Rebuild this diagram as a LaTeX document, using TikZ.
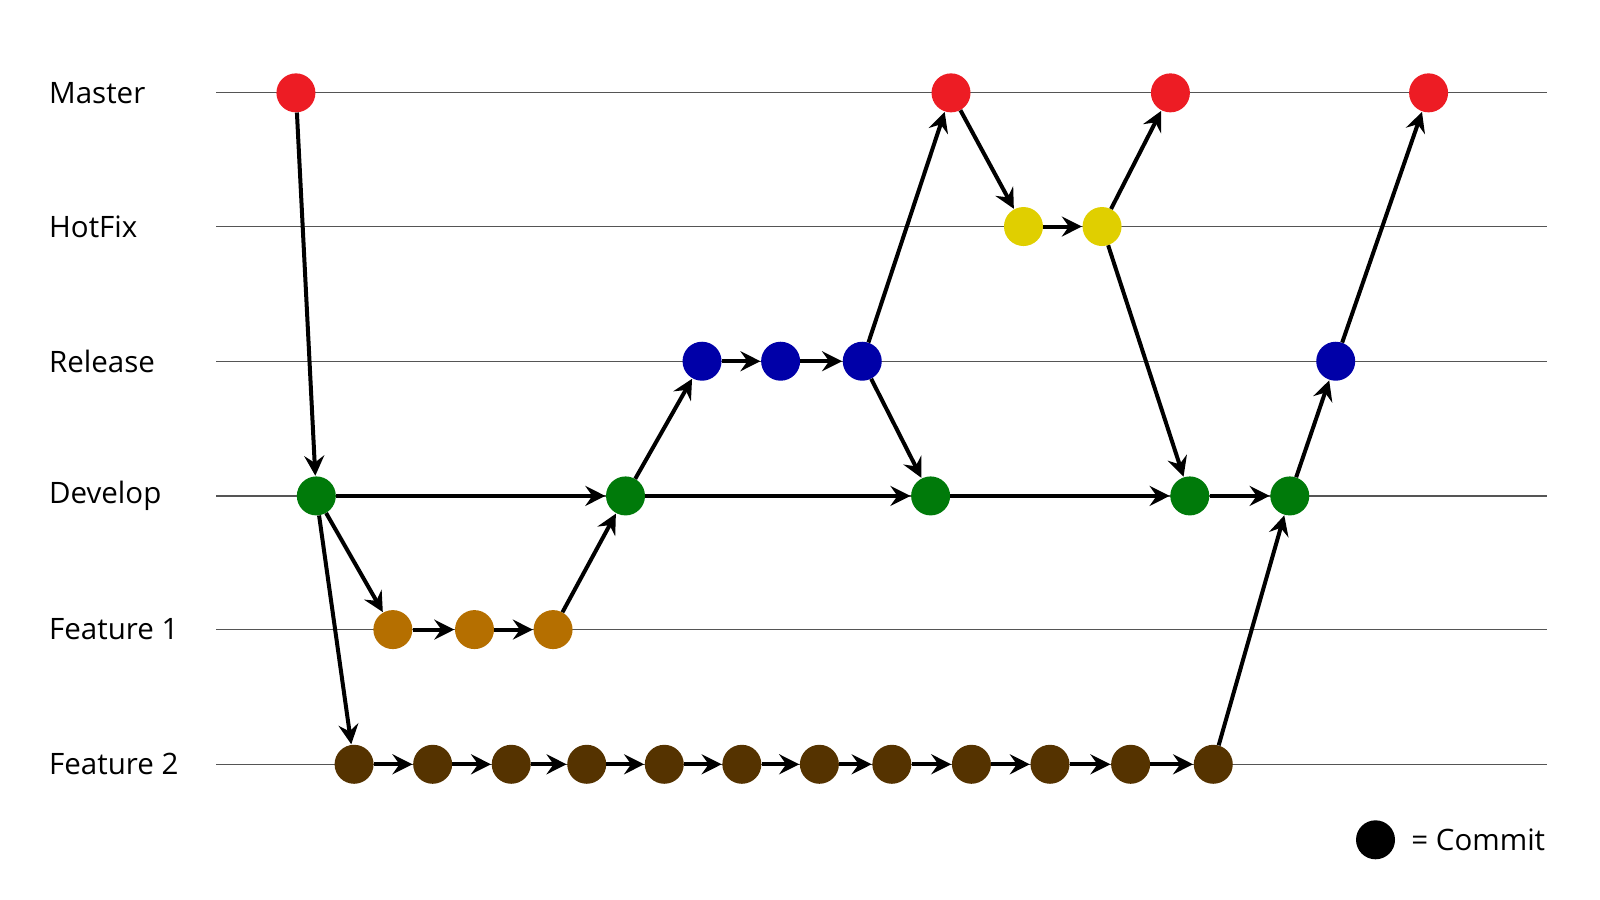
\documentclass[tikz,border=0pt]{standalone}
\usepackage{fontspec}
\setmainfont{Open Sans}
\usetikzlibrary{arrows.meta}
\definecolor{cred}{HTML}{ED1C24}
\definecolor{cyel}{HTML}{E0CF00}
\definecolor{cblue}{HTML}{0000A8}
\definecolor{cgreen}{HTML}{007A0A}
\definecolor{corange}{HTML}{B56F00}
\definecolor{cbrown}{HTML}{553300}
\definecolor{cline}{HTML}{555555}
\begin{document}
\begin{tikzpicture}[x=1.0204pt,y=-1.0204pt,
  commit/.style={circle,inner sep=0pt,minimum size=39pt,fill=#1},
  lane/.style={draw=cline,line width=1.2pt},
  lbl/.style={anchor=west,inner sep=0pt,font=\fontsize{29.5}{34}\selectfont},
  flow/.style={-{Stealth[length=20pt,width=20pt,inset=7pt]},line width=4pt,black,shorten >=0.5pt}]
\useasboundingbox (0,0) rectangle (1568,882);
% lanes
\foreach \y/\t/\n in {91/Master/lm,222/HotFix/lh,354/Release/lr,486/Develop/ld,617/Feature 1/lfa,749/Feature 2/lfb}{
  \coordinate (\n s) at (212,\y);
  \coordinate (\n e) at (1516,\y);
  \draw[lane] (\n s) -- (\n e);
  \node[lbl] (\n) at (48,\y) {\t};
}
% commits
\node[commit=cred] (m1) at (290,91) {};
\node[commit=cred] (m2) at (932,91) {};
\node[commit=cred] (m3) at (1147,91) {};
\node[commit=cred] (m4) at (1400,91) {};
\node[commit=cyel] (h1) at (1003,222) {};
\node[commit=cyel] (h2) at (1080,222) {};
\node[commit=cblue] (r1) at (688,354) {};
\node[commit=cblue] (r2) at (765,354) {};
\node[commit=cblue] (r3) at (845,354) {};
\node[commit=cblue] (r4) at (1309,354) {};
\node[commit=cgreen] (d1) at (310,486) {};
\node[commit=cgreen] (d2) at (613,486) {};
\node[commit=cgreen] (d3) at (912,486) {};
\node[commit=cgreen] (d4) at (1166,486) {};
\node[commit=cgreen] (d5) at (1264,486) {};
\node[commit=corange] (fa1) at (385,617) {};
\node[commit=corange] (fa2) at (465,617) {};
\node[commit=corange] (fa3) at (542,617) {};
\foreach \x [count=\i] in {347,424,501,575,651,727,803,874,952,1029,1108,1189}{
  \node[commit=cbrown] (fb\i) at (\x,749) {};
}
% connectors
\draw[flow] (m1) -- (d1);
\draw[flow] (d1) -- (d2);
\draw[flow] (d1) -- (fa1);
\draw[flow] (d1) -- (fb1);
\draw[flow] (fa1) -- (fa2);
\draw[flow] (fa2) -- (fa3);
\draw[flow] (fa3) -- (d2);
\draw[flow] (d2) -- (r1);
\draw[flow] (r1) -- (r2);
\draw[flow] (r2) -- (r3);
\draw[flow] (r3) -- (m2);
\draw[flow] (r3) -- (d3);
\draw[flow] (d2) -- (d3);
\draw[flow] (m2) -- (h1);
\draw[flow] (h1) -- (h2);
\draw[flow] (h2) -- (m3);
\draw[flow] (h2) -- (d4);
\draw[flow] (d3) -- (d4);
\draw[flow] (d4) -- (d5);
\foreach \i [evaluate=\i as \j using int(\i+1)] in {1,...,11}{
  \draw[flow] (fb\i) -- (fb\j);
}
\draw[flow] (fb12) -- (d5);
\draw[flow] (d5) -- (r4);
\draw[flow] (r4) -- (m4);
% legend
\node[commit=black] (leg) at (1348,823) {};
\node[lbl] (legt) at (1383,823) {= Commit};
\end{tikzpicture}
\end{document}
